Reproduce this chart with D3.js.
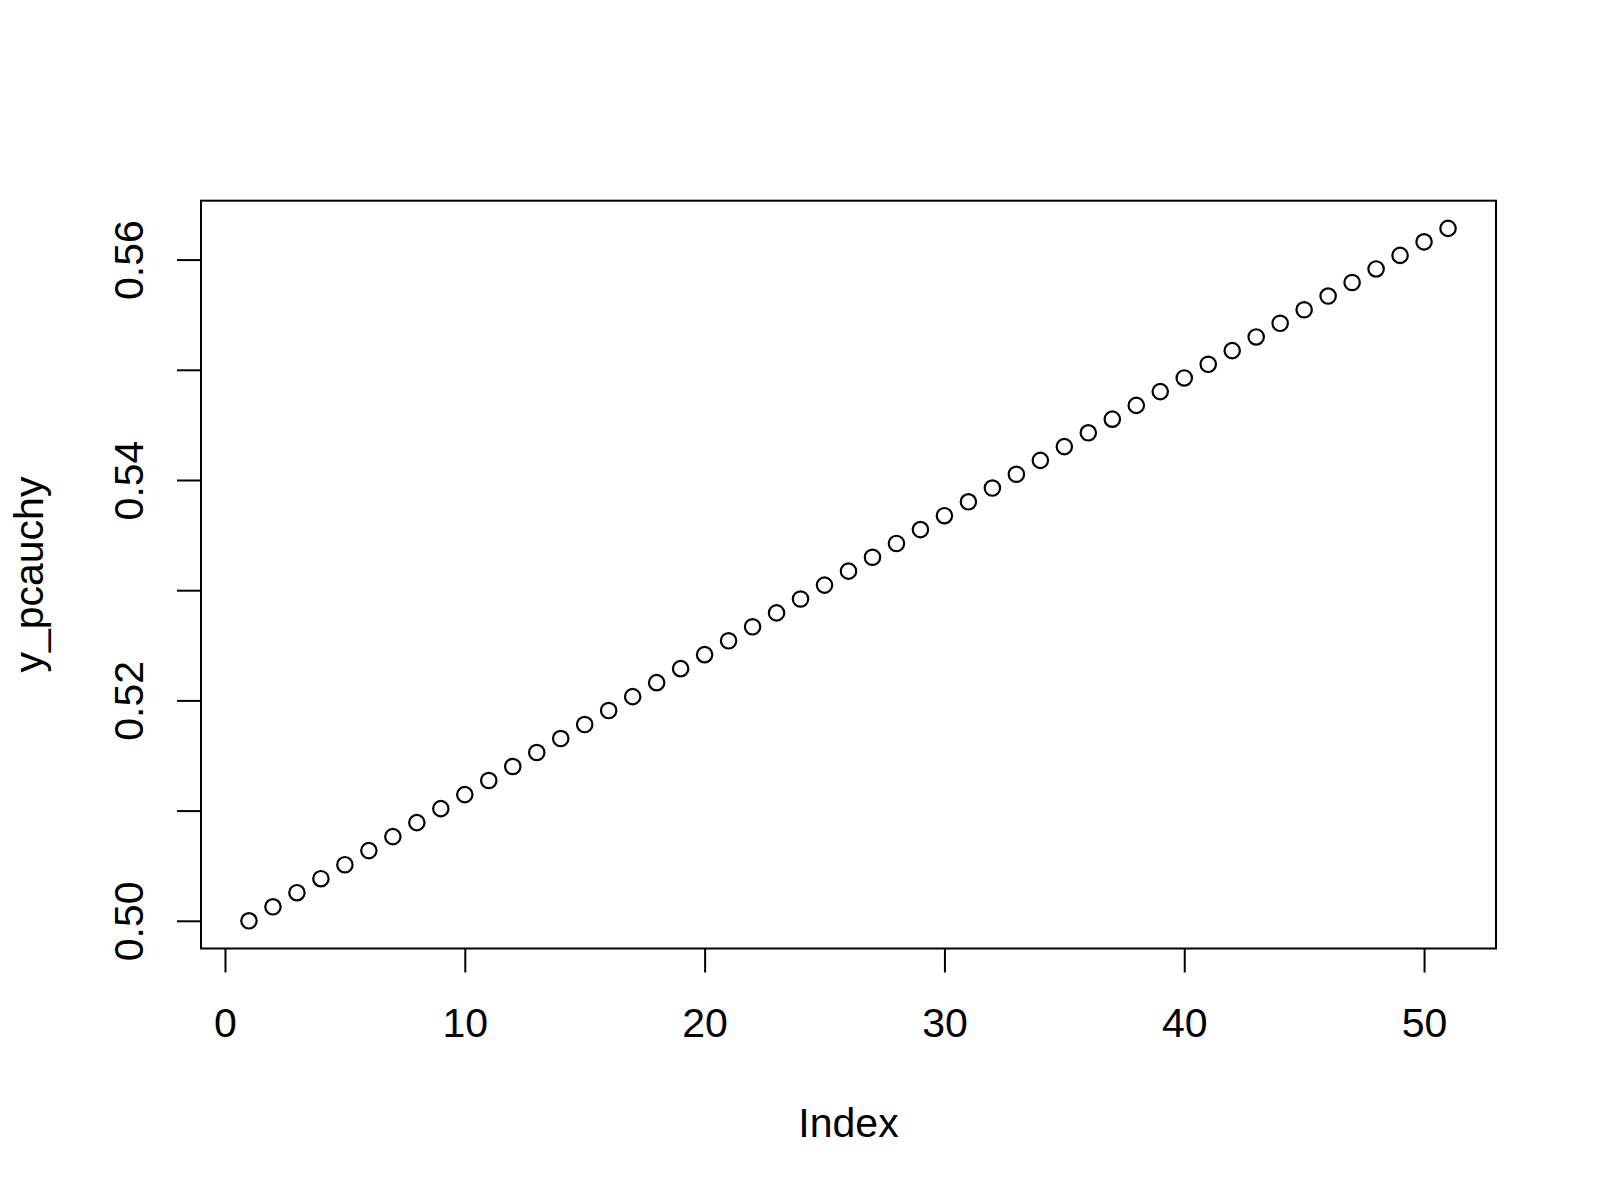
<!DOCTYPE html>
<html>
<head>
<meta charset="utf-8">
<script src="https://cdn.jsdelivr.net/npm/d3@7"></script>
<style>
  body { margin: 0; background: #fff; }
  text { font-family: "Liberation Sans", Arial, sans-serif; fill: #000; }
</style>
</head>
<body>
<script>
var width = 1600,
    height = 1200;

// index 1..51 and the plotted y_pcauchy values
var index = d3.range(1, 52);
var yValues = [
  0.50000, 0.50127, 0.50255, 0.50382, 0.50509, 0.50637, 0.50764, 0.50891, 0.51018, 0.51145,
  0.51273, 0.51400, 0.51527, 0.51654, 0.51781, 0.51908, 0.52034, 0.52161, 0.52288, 0.52415,
  0.52541, 0.52668, 0.52794, 0.52920, 0.53046, 0.53173, 0.53299, 0.53424, 0.53550, 0.53676,
  0.53802, 0.53927, 0.54052, 0.54178, 0.54303, 0.54428, 0.54552, 0.54677, 0.54802, 0.54926,
  0.55050, 0.55174, 0.55298, 0.55422, 0.55545, 0.55669, 0.55792, 0.55915, 0.56038, 0.56161,
  0.56283
];

var xTicks = [0, 10, 20, 30, 40, 50];
var yTicks = [0.50, 0.51, 0.52, 0.53, 0.54, 0.55, 0.56];
var yTickLabels = ['0.50', '', '0.52', '', '0.54', '', '0.56'];

var plot = { left: 201, right: 1496, top: 200.7, bottom: 948.5 };

var svg = d3.select('body')
  .append('svg')
  .attr('width', width)
  .attr('height', height);

// R style 4% padding on each side
var xScale = d3.scaleLinear()
  .domain([-1, 53])
  .range([plot.left, plot.right]);

var yScale = d3.scaleLinear()
  .domain([0.4974868, 0.5653432])
  .range([plot.bottom, plot.top]);

var xAxis = d3.axisBottom(xScale)
  .tickValues(xTicks)
  .tickSize(24)
  .tickSizeOuter(0)
  .tickPadding(0)
  .tickFormat(d3.format('d'));

var yAxis = d3.axisLeft(yScale)
  .tickValues(yTicks)
  .tickSize(24)
  .tickSizeOuter(0)
  .tickFormat((d, i) => yTickLabels[i]);

var gx = svg.append('g')
  .attr('transform', 'translate(0,' + plot.bottom + ')')
  .call(xAxis);
gx.select('.domain').remove();
gx.selectAll('line').attr('stroke', '#000').attr('stroke-width', 2);
gx.selectAll('text')
  .attr('y', 88.5)
  .attr('dy', null)
  .style('font-size', '41px');

var gy = svg.append('g')
  .attr('transform', 'translate(' + plot.left + ',0)')
  .call(yAxis);
gy.select('.domain').remove();
gy.selectAll('line').attr('stroke', '#000').attr('stroke-width', 2);
gy.selectAll('text')
  .attr('x', null)
  .attr('dy', null)
  .attr('text-anchor', 'middle')
  .attr('transform', 'translate(-58,0) rotate(-90)')
  .style('font-size', '41px');

// plot box
svg.append('rect')
  .attr('x', plot.left)
  .attr('y', plot.top)
  .attr('width', plot.right - plot.left)
  .attr('height', plot.bottom - plot.top)
  .attr('fill', 'none')
  .attr('stroke', '#000')
  .attr('stroke-width', 2);

svg.selectAll('circle.pt')
  .data(yValues)
  .enter()
  .append('circle')
  .attr('class', 'pt')
  .attr('cx', (d, i) => xScale(index[i]))
  .attr('cy', d => yScale(d))
  .attr('r', 7.7)
  .attr('fill', 'none')
  .attr('stroke', '#000')
  .attr('stroke-width', 2.2);

svg.append('text')
  .attr('x', (plot.left + plot.right) / 2)
  .attr('y', 1137)
  .attr('text-anchor', 'middle')
  .style('font-size', '41px')
  .text('Index');

svg.append('text')
  .attr('transform', 'translate(43,' + (plot.top + plot.bottom) / 2 + ') rotate(-90)')
  .attr('text-anchor', 'middle')
  .style('font-size', '41px')
  .text('y_pcauchy');
</script>
</body>
</html>
